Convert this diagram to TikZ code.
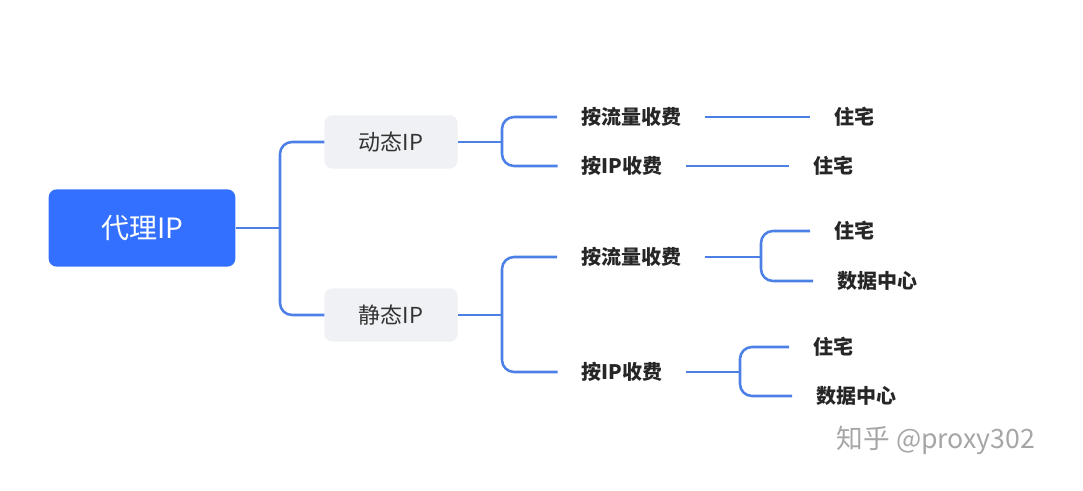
\documentclass[tikz,border=0pt]{standalone}
\usepackage{fontspec}
\setmainfont{Noto Sans CJK SC}
\usetikzlibrary{calc}
\definecolor{rootblue}{HTML}{3370FF}
\definecolor{linec}{HTML}{4C80E6}
\definecolor{boxgray}{HTML}{F0F1F4}
\tikzset{
 ln/.style={draw=linec,line width=1.9pt,rounded corners=9pt},
 mid/.style={fill=boxgray,rounded corners=6pt,minimum width=100pt,minimum height=40pt,font=\fontsize{16.5}{18}\selectfont,text=black!80,outer sep=0pt},
 leaf/.style={font=\fontsize{15}{17}\bfseries\selectfont,text=black!85,inner sep=0pt,outer xsep=18pt},
}
\begin{document}
\begin{tikzpicture}[x=0.75pt,y=-0.75pt]
\useasboundingbox (0,0) rectangle (1083,491);
\node[fill=rootblue,rounded corners=6pt,minimum width=140pt,minimum height=58pt,text=white,font=\fontsize{21}{24}\selectfont] (root) at (142,228) {代理IP};
\node[mid] (dyn) at (391,142) {动态IP};
\node[mid] (sta) at (391,315) {静态IP};
\node[leaf] (d1) at (631,117) {按流量收费};
\node[leaf] (d2) at (622,166) {按IP收费};
\node[leaf] (d1a) at (854,117) {住宅};
\node[leaf] (d2a) at (833,166) {住宅};
\node[leaf] (s1) at (631,257) {按流量收费};
\node[leaf] (s2) at (622,372) {按IP收费};
\node[leaf] (s1a) at (854,231) {住宅};
\node[leaf] (s1b) at (877,281) {数据中心};
\node[leaf] (s2a) at (833,347) {住宅};
\node[leaf] (s2b) at (856,396) {数据中心};
\coordinate (j0) at (280,228);
\draw[ln] (root.east) -- (j0);
\draw[ln] (dyn.west) -| (j0);
\draw[ln] (sta.west) -| (j0);
\coordinate (j1) at (502,142);
\draw[ln] (dyn.east) -- (j1);
\draw[ln] (d1.west) -| (j1);
\draw[ln] (d2.west) -| (j1);
\coordinate (j2) at (502,315);
\draw[ln] (sta.east) -- (j2);
\draw[ln] (s1.west) -| (j2);
\draw[ln] (s2.west) -| (j2);
\draw[ln] (d1.east) -- (d1a.west);
\draw[ln] (d2.east) -- (d2a.west);
\coordinate (j3) at (761,257);
\draw[ln] (s1.east) -- (j3);
\draw[ln] (s1a.west) -| (j3);
\draw[ln] (s1b.west) -| (j3);
\coordinate (j4) at (740,372);
\draw[ln] (s2.east) -- (j4);
\draw[ln] (s2a.west) -| (j4);
\draw[ln] (s2b.west) -| (j4);
\node[text=black!35,font=\fontsize{20}{22}\selectfont] (wm) at (936,440) {知乎 @proxy302};
\end{tikzpicture}
\end{document}
